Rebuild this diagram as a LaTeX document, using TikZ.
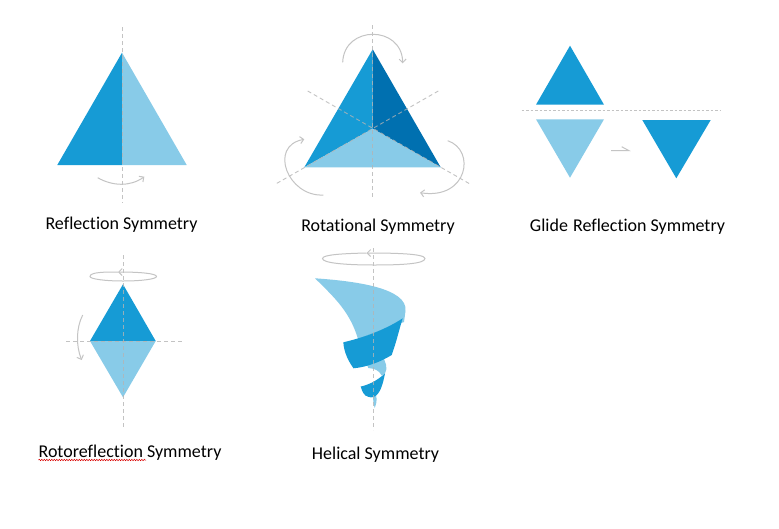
\documentclass[tikz,border=0pt]{standalone}
\usepackage{fontspec}
\setmainfont[Ligatures=NoCommon]{Carlito}
\usetikzlibrary{arrows.meta,decorations.pathmorphing}
\definecolor{midblue}{HTML}{169BD5}
\definecolor{paleblue}{HTML}{88CBE8}
\definecolor{deepblue}{HTML}{0070B0}
\definecolor{turncol}{HTML}{C4C4C4}
\definecolor{axiscol}{HTML}{B4B4B4}
\tikzset{
  axisline/.style={axiscol,line width=0.9pt,dash pattern=on 4pt off 3pt,opacity=0.8},
  turnline/.style={turncol,line width=1pt,-{Straight Barb[length=3.5pt,width=7pt]}},
  turnring/.style={turncol,line width=1pt},
  caption/.style={font=\fontsize{18}{20}\selectfont,anchor=base,inner sep=0pt}
}
\begin{document}
\begin{tikzpicture}[x=1pt,y=-1pt]
  \useasboundingbox (0,0) rectangle (779,528);
  \fill[white] (0,0) rectangle (779,528);
  % reflection
  \path
    (122,52.7) coordinate (rf0)
    (57.3,165) coordinate (rf1)
    (122,165) coordinate (rf2)
    (186.7,165) coordinate (rf3)
    (122,27) coordinate (rfa)
    (122,203) coordinate (rfb)
    (97.7,177.7) coordinate (rfc)
    (144.3,176.7) coordinate (rfd);
  \fill[midblue] (rf0) -- (rf1) -- (rf2) -- cycle;
  \fill[paleblue] (rf0) -- (rf2) -- (rf3) -- cycle;
  \draw[axisline] (rfa) -- (rfb);
  \draw[turnline] (rfc) .. controls (112,186) and (130,187) .. (rfd);
  \node[caption] (rflabel) at (121.5,229.5) {Reflection Symmetry};
  % rotational
  \path
    (372.7,49.3) coordinate (rt0)
    (304.3,167.3) coordinate (rt1)
    (440.7,167.3) coordinate (rt2)
    (372.7,128.7) coordinate (rt3)
    (372.7,25) coordinate (rta)
    (372.7,197) coordinate (rtb)
    (307.7,91) coordinate (rtc)
    (470,184) coordinate (rtd)
    (438.3,91) coordinate (rte)
    (275.7,184) coordinate (rtf)
    (342.7,62.3) coordinate (rtg)
    (402.7,63.3) coordinate (rth)
    (323.3,195) coordinate (rti)
    (304.3,139.3) coordinate (rtj)
    (447.7,140.7) coordinate (rtk)
    (420,192.7) coordinate (rtl);
  \fill[midblue] (rt0) -- (rt1) -- (rt3) -- cycle;
  \fill[deepblue] (rt0) -- (rt2) -- (rt3) -- cycle;
  \fill[paleblue] (rt1) -- (rt2) -- (rt3) -- cycle;
  \draw[axisline] (rta) -- (rtb);
  \draw[axisline] (rtc) -- (rtd);
  \draw[axisline] (rte) -- (rtf);
  \draw[turnline] (rtg) .. controls (344,25) and (402,25) .. (rth);
  \draw[turnline] (rti) .. controls (288,197) and (268,146) .. (rtj);
  \draw[turnline] (rtk) .. controls (476,150) and (468,200) .. (rtl);
  \node[caption] (rtlabel) at (378,231.5) {Rotational Symmetry};
  % glide reflection
  \path
    (570,45.7) coordinate (gl0)
    (536,104.7) coordinate (gl1)
    (604,104.7) coordinate (gl2)
    (536,119.3) coordinate (gl3)
    (604,119.3) coordinate (gl4)
    (570,177.7) coordinate (gl5)
    (642.3,120) coordinate (gl6)
    (710.7,120) coordinate (gl7)
    (676.3,178.3) coordinate (gl8)
    (521.7,110.7) coordinate (gla)
    (720.7,110.7) coordinate (glb)
    (611,150.7) coordinate (glc)
    (629,150.7) coordinate (gld)
    (621.7,146.7) coordinate (gle);
  \fill[midblue] (gl0) -- (gl1) -- (gl2) -- cycle;
  \fill[paleblue] (gl3) -- (gl4) -- (gl5) -- cycle;
  \fill[midblue] (gl6) -- (gl7) -- (gl8) -- cycle;
  \draw[axisline,dash pattern=on 2.5pt off 2pt] (gla) -- (glb);
  \draw[turnring] (glc) -- (gld) -- (gle);
  \node[caption] (gllabel) at (627.5,231.5) {Glide \hspace{1pt}Reflection Symmetry};
  % rotoreflection
  \path
    (123,284.3) coordinate (ro0)
    (90,341) coordinate (ro1)
    (155.7,341) coordinate (ro2)
    (123,397.3) coordinate (ro3)
    (123.7,255) coordinate (roa)
    (123.7,427) coordinate (rob)
    (66,341.3) coordinate (roc)
    (182.3,341.3) coordinate (rod)
    (82.7,315) coordinate (roe)
    (81.7,360) coordinate (rof)
    (118,272) coordinate (rog);
  \fill[midblue] (ro0) -- (ro1) -- (ro2) -- cycle;
  \fill[paleblue] (ro1) -- (ro2) -- (ro3) -- cycle;
  \draw[axisline] (roa) -- (rob);
  \draw[axisline] (roc) -- (rod);
  \draw[turnline] (rog) .. controls (105,272) and (90,272) .. (90,276.5)
    .. controls (90,279) and (105,281) .. (123,281)
    .. controls (142,281) and (156.5,279) .. (156.5,276.5)
    .. controls (156.5,273.5) and (140,272) .. (rog);
  \draw[turnline] (roe) .. controls (76,328) and (76,346) .. (rof);
  \node[caption] (rolabel) at (130,457) {Rotoreflection Symmetry};
  \draw[red!85!black,line width=0.5pt,decorate,decoration={snake,amplitude=0.7pt,segment length=2.5pt}]
    (38.5,460) -- (146,460);
  % helical
  \path
    (315,278.3) coordinate (he0)
    (402.7,318.3) coordinate (he1)
    (358,339) coordinate (he2)
    (343.3,342.3) coordinate (he3)
    (353.5,368.3) coordinate (he4)
    (391.7,355) coordinate (he5)
    (366,362) coordinate (he6)
    (385,373.3) coordinate (he7)
    (360.7,386.5) coordinate (he8)
    (373.3,397) coordinate (he9)
    (373.3,248) coordinate (hea)
    (373.3,430) coordinate (heb)
    (366.5,253) coordinate (hec);
  \fill[paleblue] (he0) .. controls (355,281) and (408,288) .. (405.5,311)
    -- (404,322) -- (he2) .. controls (350,312) and (335,298) .. (he0) -- cycle;
  \fill[paleblue] (he6) -- (382,356) .. controls (386,362) and (388,368) .. (he7)
    -- (381.7,375.5) .. controls (379,370) and (374,368.5) .. (368.3,368) -- (he6) -- cycle;
  \fill[paleblue] (372.7,394) -- (376,395) .. controls (377.5,400) and (376,405) .. (374.6,408)
    .. controls (373.8,404) and (373,400) .. (372.7,394) -- cycle;
  \fill[midblue] (he1) .. controls (385,330) and (362,338) .. (he3)
    .. controls (344,353) and (349,362) .. (he4)
    .. controls (368,367) and (382,361) .. (he5)
    .. controls (397,340) and (399,330) .. (he1) -- cycle;
  \fill[midblue] (he7) .. controls (377,381) and (368,385) .. (he8)
    .. controls (362,391) and (364,396) .. (368,396.7)
    .. controls (370,397.5) and (372,397.5) .. (he9)
    .. controls (380,395) and (383,384) .. (he7) -- cycle;
  \draw[axisline] (hea) -- (heb);
  \draw[turnline] (hec) .. controls (345,253.5) and (322.5,254.5) .. (322.5,258.5)
    .. controls (322.5,263) and (345,265) .. (374,265)
    .. controls (400,265) and (425,264) .. (425,258.5)
    .. controls (425,253.5) and (392,253) .. (hec);
  \node[caption] (helabel) at (375.5,459) {Helical Symmetry};
\end{tikzpicture}
\end{document}
